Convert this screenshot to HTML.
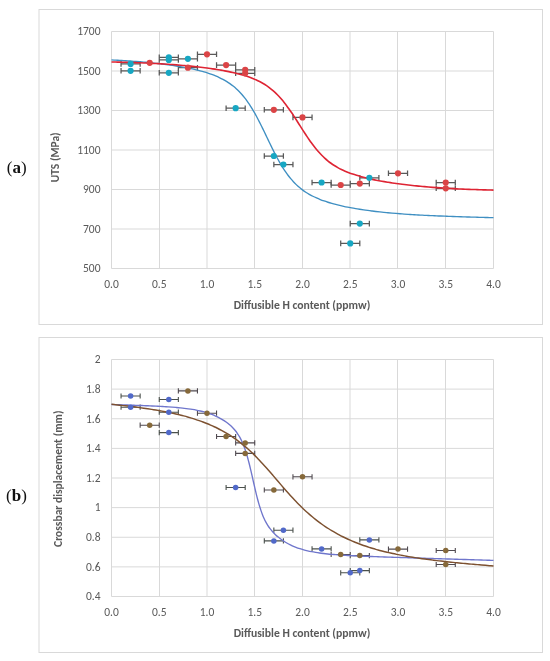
<!DOCTYPE html>
<html><head><meta charset="utf-8"><title>UTS and crossbar displacement vs diffusible H</title>
<style>html,body{margin:0;padding:0;background:#fff;width:550px;height:661px;overflow:hidden} svg{display:block}</style>
</head><body>
<svg width="550" height="661" viewBox="0 0 550 661">
<style>.t{font-family:Carlito, 'Liberation Sans', sans-serif;font-size:11.5px;fill:#595959} .tb{font-family:Carlito, 'Liberation Sans', sans-serif;font-size:11.5px;font-weight:bold;fill:#595959} .xt{font-size:11.7px} .tag{font-family:"Liberation Serif",serif;font-weight:bold;font-size:17px;fill:#111}</style>
<rect width="550" height="661" fill="#fff"/>
<rect x="39" y="9.5" width="503.5" height="315" fill="#fff" stroke="#d9d9d9" stroke-width="1"/>
<path d="M111.5,268.50H493.50M111.5,229.00H493.50M111.5,189.50H493.50M111.5,150.00H493.50M111.5,110.50H493.50M111.5,71.00H493.50M111.5,31.50H493.50M111.50,31.5V268.5M159.50,31.5V268.5M207.00,31.5V268.5M254.50,31.5V268.5M302.50,31.5V268.5M350.00,31.5V268.5M397.50,31.5V268.5M445.50,31.5V268.5M493.50,31.5V268.5" stroke="#d9d9d9" stroke-width="1" fill="none"/>
<text x="100.5" y="272.30" text-anchor="end" class="t" textLength="17.5" lengthAdjust="spacingAndGlyphs">500</text>
<text x="100.5" y="232.80" text-anchor="end" class="t" textLength="17.5" lengthAdjust="spacingAndGlyphs">700</text>
<text x="100.5" y="193.30" text-anchor="end" class="t" textLength="17.5" lengthAdjust="spacingAndGlyphs">900</text>
<text x="100.5" y="153.80" text-anchor="end" class="t" textLength="23.33" lengthAdjust="spacingAndGlyphs">1100</text>
<text x="100.5" y="114.30" text-anchor="end" class="t" textLength="23.33" lengthAdjust="spacingAndGlyphs">1300</text>
<text x="100.5" y="74.80" text-anchor="end" class="t" textLength="23.33" lengthAdjust="spacingAndGlyphs">1500</text>
<text x="100.5" y="35.30" text-anchor="end" class="t" textLength="23.33" lengthAdjust="spacingAndGlyphs">1700</text>
<text x="111.50" y="287.80" text-anchor="middle" class="t" textLength="14.56" lengthAdjust="spacingAndGlyphs">0.0</text>
<text x="159.25" y="287.80" text-anchor="middle" class="t" textLength="14.56" lengthAdjust="spacingAndGlyphs">0.5</text>
<text x="207.00" y="287.80" text-anchor="middle" class="t" textLength="14.56" lengthAdjust="spacingAndGlyphs">1.0</text>
<text x="254.75" y="287.80" text-anchor="middle" class="t" textLength="14.56" lengthAdjust="spacingAndGlyphs">1.5</text>
<text x="302.50" y="287.80" text-anchor="middle" class="t" textLength="14.56" lengthAdjust="spacingAndGlyphs">2.0</text>
<text x="350.25" y="287.80" text-anchor="middle" class="t" textLength="14.56" lengthAdjust="spacingAndGlyphs">2.5</text>
<text x="398.00" y="287.80" text-anchor="middle" class="t" textLength="14.56" lengthAdjust="spacingAndGlyphs">3.0</text>
<text x="445.75" y="287.80" text-anchor="middle" class="t" textLength="14.56" lengthAdjust="spacingAndGlyphs">3.5</text>
<text x="493.50" y="287.80" text-anchor="middle" class="t" textLength="14.56" lengthAdjust="spacingAndGlyphs">4.0</text>
<text x="302" y="309.40" text-anchor="middle" class="tb xt" textLength="136.64" lengthAdjust="spacingAndGlyphs">Diffusible H content (ppmw)</text>
<text transform="translate(58.8,157.3) rotate(-90)" x="0" y="0" text-anchor="middle" class="tb" textLength="49.98" lengthAdjust="spacingAndGlyphs">UTS (MPa)</text>
<text x="6.8" y="172.9" class="tag"><tspan font-weight="normal">(</tspan>a<tspan font-weight="normal">)</tspan></text>
<rect x="39" y="337.5" width="503.5" height="315" fill="#fff" stroke="#d9d9d9" stroke-width="1"/>
<path d="M111.5,596.50H493.50M111.5,566.88H493.50M111.5,537.25H493.50M111.5,507.62H493.50M111.5,478.00H493.50M111.5,448.38H493.50M111.5,418.75H493.50M111.5,389.12H493.50M111.5,359.50H493.50M111.50,359.5V596.5M159.50,359.5V596.5M207.00,359.5V596.5M254.50,359.5V596.5M302.50,359.5V596.5M350.00,359.5V596.5M397.50,359.5V596.5M445.50,359.5V596.5M493.50,359.5V596.5" stroke="#d9d9d9" stroke-width="1" fill="none"/>
<text x="100.5" y="600.30" text-anchor="end" class="t" textLength="14.56" lengthAdjust="spacingAndGlyphs">0.4</text>
<text x="100.5" y="570.67" text-anchor="end" class="t" textLength="14.56" lengthAdjust="spacingAndGlyphs">0.6</text>
<text x="100.5" y="541.05" text-anchor="end" class="t" textLength="14.56" lengthAdjust="spacingAndGlyphs">0.8</text>
<text x="100.5" y="511.43" text-anchor="end" class="t" textLength="5.84" lengthAdjust="spacingAndGlyphs">1</text>
<text x="100.5" y="481.80" text-anchor="end" class="t" textLength="14.56" lengthAdjust="spacingAndGlyphs">1.2</text>
<text x="100.5" y="452.18" text-anchor="end" class="t" textLength="14.56" lengthAdjust="spacingAndGlyphs">1.4</text>
<text x="100.5" y="422.55" text-anchor="end" class="t" textLength="14.56" lengthAdjust="spacingAndGlyphs">1.6</text>
<text x="100.5" y="392.93" text-anchor="end" class="t" textLength="14.56" lengthAdjust="spacingAndGlyphs">1.8</text>
<text x="100.5" y="363.30" text-anchor="end" class="t" textLength="5.84" lengthAdjust="spacingAndGlyphs">2</text>
<text x="111.50" y="615.80" text-anchor="middle" class="t" textLength="14.56" lengthAdjust="spacingAndGlyphs">0.0</text>
<text x="159.25" y="615.80" text-anchor="middle" class="t" textLength="14.56" lengthAdjust="spacingAndGlyphs">0.5</text>
<text x="207.00" y="615.80" text-anchor="middle" class="t" textLength="14.56" lengthAdjust="spacingAndGlyphs">1.0</text>
<text x="254.75" y="615.80" text-anchor="middle" class="t" textLength="14.56" lengthAdjust="spacingAndGlyphs">1.5</text>
<text x="302.50" y="615.80" text-anchor="middle" class="t" textLength="14.56" lengthAdjust="spacingAndGlyphs">2.0</text>
<text x="350.25" y="615.80" text-anchor="middle" class="t" textLength="14.56" lengthAdjust="spacingAndGlyphs">2.5</text>
<text x="398.00" y="615.80" text-anchor="middle" class="t" textLength="14.56" lengthAdjust="spacingAndGlyphs">3.0</text>
<text x="445.75" y="615.80" text-anchor="middle" class="t" textLength="14.56" lengthAdjust="spacingAndGlyphs">3.5</text>
<text x="493.50" y="615.80" text-anchor="middle" class="t" textLength="14.56" lengthAdjust="spacingAndGlyphs">4.0</text>
<text x="302" y="637.40" text-anchor="middle" class="tb xt" textLength="136.64" lengthAdjust="spacingAndGlyphs">Diffusible H content (ppmw)</text>
<text transform="translate(62.4,478.7) rotate(-90)" x="0" y="0" text-anchor="middle" class="tb" textLength="136.47" lengthAdjust="spacingAndGlyphs">Crossbar displacement (mm)</text>
<text x="6.0" y="501.1" class="tag"><tspan font-weight="normal">(</tspan>b<tspan font-weight="normal">)</tspan></text>
<path d="M121.05,63.90H140.15M121.05,61.10V66.70M140.15,61.10V66.70M121.05,70.80H140.15M121.05,68.00V73.60M140.15,68.00V73.60M159.25,57.30H178.35M159.25,54.50V60.10M178.35,54.50V60.10M159.25,59.90H178.35M159.25,57.10V62.70M178.35,57.10V62.70M159.25,72.80H178.35M159.25,70.00V75.60M178.35,70.00V75.60M178.35,58.80H197.45M178.35,56.00V61.60M197.45,56.00V61.60M226.10,108.20H245.20M226.10,105.40V111.00M245.20,105.40V111.00M264.30,156.00H283.40M264.30,153.20V158.80M283.40,153.20V158.80M273.85,164.50H292.95M273.85,161.70V167.30M292.95,161.70V167.30M312.05,182.50H331.15M312.05,179.70V185.30M331.15,179.70V185.30M359.80,177.80H378.90M359.80,175.00V180.60M378.90,175.00V180.60M350.25,223.60H369.35M350.25,220.80V226.40M369.35,220.80V226.40M340.70,243.40H359.80M340.70,240.60V246.20M359.80,240.60V246.20" stroke="#595959" stroke-width="1.25" fill="none"/>
<path d="M178.35,67.70H197.45M178.35,64.90V70.50M197.45,64.90V70.50M197.45,54.30H216.55M197.45,51.50V57.10M216.55,51.50V57.10M216.55,65.10H235.65M216.55,62.30V67.90M235.65,62.30V67.90M235.65,69.80H254.75M235.65,67.00V72.60M254.75,67.00V72.60M235.65,73.30H254.75M235.65,70.50V76.10M254.75,70.50V76.10M264.30,109.80H283.40M264.30,107.00V112.60M283.40,107.00V112.60M292.95,117.40H312.05M292.95,114.60V120.20M312.05,114.60V120.20M331.15,185.00H350.25M331.15,182.20V187.80M350.25,182.20V187.80M350.25,183.60H369.35M350.25,180.80V186.40M369.35,180.80V186.40M388.45,173.30H407.55M388.45,170.50V176.10M407.55,170.50V176.10M436.20,182.50H455.30M436.20,179.70V185.30M455.30,179.70V185.30M436.20,188.30H455.30M436.20,185.50V191.10M455.30,185.50V191.10" stroke="#595959" stroke-width="1.25" fill="none"/>
<path d="M111.50,59.95 C112.18,59.98 114.21,60.09 115.56,60.16 C116.91,60.23 118.27,60.31 119.62,60.39 C120.97,60.47 122.33,60.55 123.68,60.64 C125.03,60.73 126.39,60.81 127.74,60.90 C129.09,60.99 130.44,61.09 131.79,61.18 C133.14,61.27 134.50,61.37 135.85,61.47 C137.20,61.57 138.55,61.68 139.90,61.79 C141.25,61.90 142.60,62.02 143.95,62.14 C145.30,62.26 146.65,62.37 148.00,62.50 C149.35,62.63 150.70,62.76 152.05,62.90 C153.40,63.04 154.74,63.17 156.09,63.32 C157.44,63.47 158.78,63.61 160.13,63.77 C161.48,63.93 162.82,64.09 164.17,64.26 C165.51,64.43 166.86,64.61 168.20,64.79 C169.54,64.97 170.89,65.16 172.23,65.35 C173.57,65.54 174.91,65.75 176.25,65.96 C177.59,66.17 178.92,66.39 180.26,66.62 C181.60,66.85 182.94,67.08 184.27,67.33 C185.60,67.58 186.93,67.83 188.26,68.10 C189.59,68.37 190.92,68.65 192.24,68.94 C193.56,69.23 194.88,69.53 196.20,69.85 C197.52,70.17 198.83,70.49 200.14,70.84 C201.45,71.19 202.76,71.55 204.06,71.93 C205.36,72.31 206.66,72.71 207.95,73.13 C209.24,73.55 210.52,73.98 211.79,74.45 C213.06,74.92 214.33,75.40 215.58,75.92 C216.83,76.44 218.08,76.98 219.31,77.55 C220.54,78.12 221.75,78.72 222.95,79.36 C224.14,80.00 225.32,80.67 226.48,81.38 C227.63,82.09 228.77,82.82 229.88,83.60 C230.99,84.38 232.08,85.20 233.14,86.04 C234.20,86.89 235.23,87.76 236.23,88.67 C237.23,89.58 238.20,90.53 239.15,91.50 C240.10,92.47 241.02,93.47 241.91,94.49 C242.80,95.51 243.66,96.56 244.50,97.62 C245.34,98.68 246.16,99.77 246.95,100.87 C247.74,101.97 248.51,103.08 249.26,104.21 C250.01,105.34 250.74,106.49 251.45,107.64 C252.16,108.79 252.86,109.96 253.54,111.13 C254.22,112.30 254.89,113.47 255.55,114.66 C256.21,115.84 256.85,117.04 257.48,118.24 C258.11,119.44 258.73,120.64 259.35,121.85 C259.97,123.06 260.57,124.27 261.18,125.48 C261.79,126.69 262.38,127.91 262.98,129.13 C263.58,130.35 264.16,131.57 264.75,132.79 C265.34,134.01 265.92,135.23 266.51,136.45 C267.10,137.67 267.68,138.90 268.27,140.12 C268.86,141.34 269.44,142.56 270.03,143.78 C270.62,145.00 271.22,146.22 271.82,147.44 C272.42,148.66 273.02,149.87 273.63,151.08 C274.24,152.29 274.85,153.50 275.48,154.70 C276.11,155.90 276.74,157.10 277.39,158.29 C278.04,159.48 278.69,160.66 279.36,161.84 C280.03,163.02 280.71,164.19 281.41,165.35 C282.11,166.51 282.82,167.67 283.56,168.81 C284.30,169.95 285.05,171.08 285.82,172.19 C286.59,173.30 287.38,174.40 288.20,175.48 C289.02,176.56 289.85,177.63 290.72,178.67 C291.59,179.71 292.49,180.74 293.41,181.73 C294.33,182.72 295.27,183.69 296.25,184.63 C297.23,185.57 298.24,186.48 299.27,187.36 C300.30,188.24 301.37,189.08 302.45,189.89 C303.53,190.70 304.65,191.48 305.78,192.22 C306.91,192.96 308.07,193.67 309.25,194.34 C310.43,195.01 311.62,195.65 312.83,196.26 C314.04,196.87 315.27,197.44 316.51,197.99 C317.75,198.54 319.00,199.06 320.26,199.55 C321.52,200.05 322.80,200.51 324.08,200.96 C325.36,201.41 326.65,201.83 327.94,202.24 C329.23,202.65 330.53,203.03 331.83,203.40 C333.13,203.77 334.45,204.12 335.76,204.46 C337.07,204.80 338.39,205.12 339.71,205.43 C341.03,205.74 342.35,206.04 343.67,206.33 C345.00,206.62 346.33,206.89 347.66,207.15 C348.99,207.41 350.32,207.66 351.65,207.91 C352.98,208.16 354.31,208.39 355.65,208.62 C356.99,208.85 358.33,209.06 359.67,209.27 C361.01,209.48 362.35,209.68 363.69,209.88 C365.03,210.08 366.38,210.27 367.72,210.45 C369.06,210.63 370.41,210.80 371.75,210.97 C373.09,211.14 374.43,211.30 375.78,211.46 C377.12,211.62 378.47,211.76 379.82,211.91 C381.17,212.06 382.52,212.20 383.87,212.34 C385.22,212.48 386.57,212.60 387.92,212.73 C389.27,212.86 390.62,212.98 391.97,213.10 C393.32,213.22 394.67,213.33 396.02,213.44 C397.37,213.55 398.72,213.66 400.07,213.76 C401.42,213.86 402.78,213.96 404.13,214.06 C405.48,214.16 406.83,214.25 408.18,214.34 C409.53,214.43 410.89,214.51 412.24,214.60 C413.59,214.69 414.95,214.77 416.30,214.85 C417.65,214.93 419.01,215.00 420.36,215.08 C421.71,215.16 423.07,215.23 424.42,215.30 C425.77,215.37 427.13,215.44 428.48,215.50 C429.83,215.56 431.19,215.63 432.54,215.69 C433.89,215.75 435.25,215.81 436.60,215.87 C437.96,215.93 439.31,215.98 440.67,216.04 C442.03,216.09 443.38,216.15 444.73,216.20 C446.08,216.25 447.44,216.31 448.79,216.36 C450.15,216.41 451.50,216.45 452.86,216.50 C454.22,216.55 455.57,216.59 456.92,216.64 C458.27,216.69 459.62,216.73 460.98,216.77 C462.34,216.81 463.69,216.86 465.05,216.90 C466.41,216.94 467.75,216.98 469.11,217.02 C470.47,217.06 471.82,217.10 473.18,217.14 C474.54,217.18 475.88,217.21 477.24,217.25 C478.60,217.29 479.95,217.33 481.31,217.36 C482.67,217.40 484.01,217.43 485.37,217.46 C486.73,217.49 488.08,217.53 489.44,217.56 C490.80,217.59 492.82,217.64 493.50,217.66" stroke="#3f8fc2" stroke-width="1.35" fill="none" stroke-linejoin="round"/>
<path d="M111.50,61.94 C112.18,61.96 114.21,62.01 115.56,62.04 C116.91,62.07 118.27,62.11 119.62,62.14 C120.97,62.17 122.33,62.21 123.68,62.25 C125.03,62.29 126.39,62.33 127.74,62.37 C129.09,62.41 130.45,62.45 131.80,62.50 C133.15,62.55 134.51,62.59 135.86,62.64 C137.21,62.69 138.57,62.75 139.92,62.80 C141.27,62.85 142.62,62.90 143.97,62.96 C145.32,63.02 146.68,63.08 148.03,63.14 C149.38,63.20 150.74,63.27 152.09,63.34 C153.44,63.41 154.79,63.48 156.14,63.55 C157.49,63.62 158.85,63.70 160.20,63.78 C161.55,63.86 162.90,63.93 164.25,64.02 C165.60,64.10 166.95,64.20 168.30,64.29 C169.65,64.38 171.01,64.47 172.36,64.57 C173.71,64.67 175.06,64.77 176.41,64.88 C177.76,64.98 179.10,65.09 180.45,65.20 C181.80,65.31 183.15,65.44 184.50,65.56 C185.85,65.68 187.19,65.80 188.54,65.93 C189.89,66.06 191.23,66.20 192.58,66.34 C193.93,66.48 195.27,66.62 196.62,66.77 C197.97,66.92 199.31,67.08 200.66,67.24 C202.00,67.40 203.35,67.57 204.69,67.74 C206.03,67.91 207.37,68.08 208.71,68.27 C210.05,68.45 211.39,68.65 212.73,68.85 C214.07,69.05 215.41,69.25 216.75,69.47 C218.09,69.69 219.42,69.91 220.75,70.14 C222.08,70.37 223.42,70.61 224.75,70.86 C226.08,71.11 227.41,71.37 228.74,71.64 C230.07,71.91 231.39,72.19 232.71,72.49 C234.03,72.79 235.35,73.09 236.66,73.42 C237.97,73.75 239.28,74.09 240.59,74.45 C241.90,74.81 243.20,75.18 244.49,75.58 C245.78,75.98 247.07,76.41 248.35,76.85 C249.63,77.29 250.90,77.75 252.16,78.25 C253.42,78.75 254.67,79.28 255.90,79.83 C257.13,80.38 258.36,80.96 259.56,81.58 C260.76,82.20 261.95,82.85 263.12,83.54 C264.29,84.23 265.43,84.95 266.55,85.71 C267.67,86.47 268.78,87.26 269.85,88.08 C270.93,88.90 271.98,89.76 273.00,90.64 C274.02,91.52 275.02,92.44 276.00,93.38 C276.98,94.32 277.92,95.28 278.85,96.27 C279.78,97.26 280.68,98.27 281.56,99.30 C282.44,100.33 283.30,101.37 284.14,102.43 C284.98,103.49 285.81,104.57 286.62,105.65 C287.43,106.73 288.23,107.83 289.01,108.94 C289.79,110.05 290.56,111.16 291.32,112.28 C292.08,113.40 292.83,114.53 293.57,115.66 C294.31,116.79 295.05,117.92 295.78,119.06 C296.51,120.20 297.23,121.35 297.96,122.49 C298.69,123.63 299.40,124.78 300.13,125.92 C300.86,127.06 301.58,128.21 302.31,129.35 C303.04,130.49 303.77,131.62 304.51,132.76 C305.25,133.89 305.99,135.03 306.74,136.16 C307.49,137.28 308.25,138.40 309.02,139.51 C309.79,140.62 310.57,141.74 311.37,142.83 C312.17,143.93 312.97,145.01 313.80,146.08 C314.63,147.15 315.47,148.21 316.34,149.25 C317.20,150.29 318.09,151.32 318.99,152.33 C319.89,153.34 320.82,154.33 321.77,155.29 C322.72,156.25 323.69,157.20 324.69,158.11 C325.69,159.02 326.72,159.91 327.77,160.76 C328.82,161.61 329.89,162.45 330.99,163.24 C332.09,164.03 333.21,164.79 334.35,165.52 C335.49,166.25 336.65,166.94 337.83,167.60 C339.01,168.26 340.22,168.88 341.43,169.48 C342.64,170.08 343.88,170.64 345.12,171.18 C346.36,171.72 347.62,172.23 348.88,172.71 C350.14,173.19 351.42,173.65 352.70,174.09 C353.98,174.53 355.27,174.94 356.56,175.34 C357.85,175.74 359.15,176.12 360.46,176.48 C361.76,176.84 363.08,177.19 364.39,177.52 C365.70,177.85 367.01,178.17 368.33,178.48 C369.65,178.79 370.98,179.08 372.30,179.36 C373.62,179.64 374.95,179.92 376.28,180.18 C377.61,180.44 378.94,180.69 380.27,180.94 C381.60,181.19 382.93,181.42 384.26,181.65 C385.59,181.88 386.93,182.10 388.27,182.31 C389.61,182.52 390.94,182.73 392.28,182.93 C393.62,183.13 394.96,183.33 396.30,183.52 C397.64,183.71 398.99,183.88 400.33,184.06 C401.67,184.24 403.02,184.41 404.36,184.57 C405.70,184.73 407.04,184.90 408.39,185.05 C409.74,185.21 411.08,185.36 412.43,185.50 C413.78,185.64 415.12,185.78 416.47,185.92 C417.82,186.05 419.16,186.19 420.51,186.31 C421.86,186.44 423.20,186.55 424.55,186.67 C425.90,186.79 427.25,186.90 428.60,187.01 C429.95,187.12 431.30,187.23 432.65,187.33 C434.00,187.43 435.35,187.53 436.70,187.63 C438.05,187.72 439.40,187.81 440.75,187.90 C442.10,187.99 443.46,188.08 444.81,188.16 C446.16,188.24 447.51,188.32 448.86,188.40 C450.21,188.48 451.57,188.55 452.92,188.62 C454.27,188.69 455.62,188.76 456.97,188.83 C458.32,188.90 459.68,188.96 461.03,189.02 C462.38,189.08 463.74,189.13 465.09,189.19 C466.44,189.25 467.79,189.30 469.14,189.35 C470.49,189.40 471.85,189.45 473.20,189.50 C474.55,189.55 475.91,189.59 477.26,189.64 C478.61,189.69 479.97,189.73 481.32,189.77 C482.67,189.81 484.03,189.85 485.38,189.89 C486.73,189.93 488.09,189.96 489.44,189.99 C490.79,190.02 492.82,190.07 493.50,190.09" stroke="#de2433" stroke-width="1.6" fill="none" stroke-linejoin="round"/>
<circle cx="149.70" cy="62.80" r="3.1" fill="#db4446"/>
<circle cx="187.90" cy="67.70" r="3.1" fill="#db4446"/>
<circle cx="207.00" cy="54.30" r="3.1" fill="#db4446"/>
<circle cx="226.10" cy="65.10" r="3.1" fill="#db4446"/>
<circle cx="245.20" cy="69.80" r="3.1" fill="#db4446"/>
<circle cx="245.20" cy="73.30" r="3.1" fill="#db4446"/>
<circle cx="273.85" cy="109.80" r="3.1" fill="#db4446"/>
<circle cx="302.50" cy="117.40" r="3.1" fill="#db4446"/>
<circle cx="340.70" cy="185.00" r="3.1" fill="#db4446"/>
<circle cx="359.80" cy="183.60" r="3.1" fill="#db4446"/>
<circle cx="398.00" cy="173.30" r="3.1" fill="#db4446"/>
<circle cx="445.75" cy="182.50" r="3.1" fill="#db4446"/>
<circle cx="445.75" cy="188.30" r="3.1" fill="#db4446"/>
<circle cx="130.60" cy="63.90" r="3.1" fill="#17a7c3"/>
<circle cx="130.60" cy="70.80" r="3.1" fill="#17a7c3"/>
<circle cx="168.80" cy="57.30" r="3.1" fill="#17a7c3"/>
<circle cx="168.80" cy="59.90" r="3.1" fill="#17a7c3"/>
<circle cx="168.80" cy="72.80" r="3.1" fill="#17a7c3"/>
<circle cx="187.90" cy="58.80" r="3.1" fill="#17a7c3"/>
<circle cx="235.65" cy="108.20" r="3.1" fill="#17a7c3"/>
<circle cx="273.85" cy="156.00" r="3.1" fill="#17a7c3"/>
<circle cx="283.40" cy="164.50" r="3.1" fill="#17a7c3"/>
<circle cx="321.60" cy="182.50" r="3.1" fill="#17a7c3"/>
<circle cx="369.35" cy="177.80" r="3.1" fill="#17a7c3"/>
<circle cx="359.80" cy="223.60" r="3.1" fill="#17a7c3"/>
<circle cx="350.25" cy="243.40" r="3.1" fill="#17a7c3"/>
<path d="M121.05,396.00H140.15M121.05,393.40V398.60M140.15,393.40V398.60M121.05,407.20H140.15M121.05,404.60V409.80M140.15,404.60V409.80M159.25,399.50H178.35M159.25,396.90V402.10M178.35,396.90V402.10M159.25,412.20H178.35M159.25,409.60V414.80M178.35,409.60V414.80M159.25,432.60H178.35M159.25,430.00V435.20M178.35,430.00V435.20M226.10,487.50H245.20M226.10,484.90V490.10M245.20,484.90V490.10M264.30,540.90H283.40M264.30,538.30V543.50M283.40,538.30V543.50M273.85,530.20H292.95M273.85,527.60V532.80M292.95,527.60V532.80M312.05,548.90H331.15M312.05,546.30V551.50M331.15,546.30V551.50M359.80,539.90H378.90M359.80,537.30V542.50M378.90,537.30V542.50M340.70,572.80H359.80M340.70,570.20V575.40M359.80,570.20V575.40M350.25,570.60H369.35M350.25,568.00V573.20M369.35,568.00V573.20" stroke="#4a504c" stroke-width="1.1" fill="none"/>
<path d="M140.15,425.20H159.25M140.15,422.60V427.80M159.25,422.60V427.80M178.35,390.90H197.45M178.35,388.30V393.50M197.45,388.30V393.50M197.45,413.20H216.55M197.45,410.60V415.80M216.55,410.60V415.80M216.55,436.50H235.65M216.55,433.90V439.10M235.65,433.90V439.10M235.65,442.90H254.75M235.65,440.30V445.50M254.75,440.30V445.50M235.65,453.40H254.75M235.65,450.80V456.00M254.75,450.80V456.00M264.30,490.00H283.40M264.30,487.40V492.60M283.40,487.40V492.60M292.95,476.80H312.05M292.95,474.20V479.40M312.05,474.20V479.40M331.15,554.50H350.25M331.15,551.90V557.10M350.25,551.90V557.10M350.25,555.60H369.35M350.25,553.00V558.20M369.35,553.00V558.20M388.45,549.10H407.55M388.45,546.50V551.70M407.55,546.50V551.70M436.20,550.50H455.30M436.20,547.90V553.10M455.30,547.90V553.10M436.20,564.50H455.30M436.20,561.90V567.10M455.30,561.90V567.10" stroke="#504a50" stroke-width="1.1" fill="none"/>
<path d="M111.50,404.47 C112.17,404.49 114.20,404.56 115.55,404.60 C116.90,404.65 118.24,404.69 119.59,404.74 C120.94,404.79 122.29,404.83 123.64,404.88 C124.99,404.93 126.34,404.97 127.69,405.02 C129.04,405.07 130.38,405.11 131.73,405.16 C133.08,405.21 134.43,405.26 135.78,405.31 C137.13,405.36 138.48,405.41 139.83,405.46 C141.18,405.51 142.52,405.56 143.87,405.62 C145.22,405.68 146.57,405.73 147.92,405.79 C149.27,405.85 150.61,405.91 151.96,405.97 C153.31,406.03 154.66,406.09 156.01,406.16 C157.36,406.23 158.70,406.30 160.05,406.37 C161.40,406.44 162.75,406.53 164.10,406.61 C165.45,406.69 166.79,406.77 168.14,406.86 C169.49,406.95 170.84,407.05 172.18,407.15 C173.53,407.25 174.87,407.36 176.21,407.48 C177.55,407.60 178.90,407.72 180.24,407.86 C181.58,408.00 182.93,408.14 184.27,408.30 C185.61,408.46 186.94,408.63 188.28,408.82 C189.62,409.01 190.96,409.20 192.29,409.42 C193.62,409.64 194.94,409.87 196.27,410.13 C197.60,410.39 198.93,410.68 200.24,410.98 C201.56,411.29 202.86,411.60 204.16,411.96 C205.46,412.32 206.76,412.71 208.04,413.13 C209.32,413.55 210.60,414.00 211.86,414.48 C213.12,414.96 214.36,415.47 215.59,416.03 C216.82,416.58 218.04,417.18 219.23,417.81 C220.42,418.44 221.60,419.11 222.75,419.82 C223.90,420.53 225.02,421.28 226.11,422.07 C227.20,422.86 228.28,423.69 229.31,424.56 C230.34,425.43 231.34,426.35 232.29,427.30 C233.24,428.25 234.15,429.25 235.01,430.29 C235.87,431.33 236.69,432.41 237.46,433.52 C238.23,434.63 238.94,435.77 239.61,436.94 C240.28,438.11 240.90,439.31 241.49,440.53 C242.08,441.75 242.62,442.98 243.14,444.23 C243.66,445.48 244.13,446.74 244.59,448.01 C245.05,449.28 245.48,450.55 245.89,451.84 C246.30,453.12 246.68,454.42 247.06,455.72 C247.44,457.02 247.80,458.32 248.15,459.62 C248.50,460.92 248.84,462.23 249.17,463.54 C249.50,464.85 249.82,466.16 250.14,467.47 C250.46,468.78 250.76,470.10 251.07,471.41 C251.38,472.73 251.68,474.05 251.98,475.36 C252.28,476.68 252.57,477.99 252.87,479.30 C253.17,480.62 253.46,481.93 253.76,483.25 C254.06,484.57 254.36,485.88 254.67,487.20 C254.97,488.51 255.28,489.83 255.59,491.14 C255.90,492.45 256.22,493.77 256.54,495.08 C256.87,496.39 257.20,497.69 257.54,499.00 C257.88,500.31 258.23,501.61 258.60,502.91 C258.97,504.21 259.35,505.51 259.75,506.80 C260.15,508.09 260.56,509.38 261.00,510.65 C261.44,511.92 261.90,513.20 262.39,514.45 C262.88,515.71 263.40,516.95 263.96,518.18 C264.52,519.41 265.11,520.63 265.74,521.82 C266.37,523.01 267.04,524.18 267.76,525.32 C268.48,526.46 269.26,527.57 270.07,528.65 C270.88,529.73 271.74,530.77 272.64,531.78 C273.54,532.78 274.48,533.75 275.46,534.68 C276.44,535.61 277.45,536.50 278.50,537.35 C279.55,538.20 280.63,539.02 281.73,539.80 C282.83,540.58 283.96,541.32 285.11,542.02 C286.26,542.72 287.44,543.38 288.63,544.01 C289.82,544.64 291.04,545.23 292.27,545.79 C293.50,546.35 294.75,546.87 296.01,547.35 C297.27,547.84 298.55,548.28 299.83,548.70 C301.11,549.12 302.41,549.50 303.71,549.86 C305.01,550.22 306.32,550.54 307.63,550.85 C308.94,551.16 310.26,551.44 311.59,551.70 C312.91,551.96 314.25,552.19 315.58,552.41 C316.91,552.63 318.24,552.83 319.58,553.02 C320.92,553.21 322.26,553.37 323.60,553.53 C324.94,553.69 326.28,553.84 327.62,553.98 C328.96,554.12 330.30,554.24 331.65,554.36 C333.00,554.48 334.34,554.59 335.69,554.69 C337.04,554.79 338.38,554.89 339.73,554.98 C341.08,555.07 342.42,555.16 343.77,555.24 C345.12,555.32 346.46,555.40 347.81,555.47 C349.16,555.54 350.51,555.61 351.86,555.68 C353.21,555.75 354.55,555.81 355.90,555.87 C357.25,555.93 358.60,555.99 359.95,556.05 C361.30,556.11 362.64,556.16 363.99,556.22 C365.34,556.28 366.69,556.33 368.04,556.38 C369.39,556.43 370.73,556.49 372.08,556.54 C373.43,556.59 374.78,556.63 376.13,556.68 C377.48,556.73 378.83,556.78 380.18,556.83 C381.53,556.88 382.87,556.92 384.22,556.97 C385.57,557.02 386.92,557.07 388.27,557.11 C389.62,557.15 390.97,557.20 392.32,557.24 C393.67,557.28 395.01,557.33 396.36,557.37 C397.71,557.41 399.06,557.46 400.41,557.50 C401.76,557.54 403.11,557.59 404.46,557.63 C405.81,557.67 407.16,557.72 408.51,557.76 C409.86,557.80 411.20,557.85 412.55,557.89 C413.90,557.93 415.25,557.98 416.60,558.02 C417.95,558.06 419.30,558.11 420.65,558.15 C422.00,558.19 423.35,558.24 424.70,558.28 C426.05,558.32 427.39,558.36 428.74,558.40 C430.09,558.44 431.44,558.49 432.79,558.53 C434.14,558.57 435.49,558.62 436.84,558.66 C438.19,558.70 439.53,558.74 440.88,558.78 C442.23,558.82 443.58,558.87 444.93,558.91 C446.28,558.95 447.63,559.00 448.98,559.04 C450.33,559.08 451.68,559.12 453.03,559.16 C454.38,559.20 455.72,559.25 457.07,559.29 C458.42,559.33 459.77,559.37 461.12,559.41 C462.47,559.45 463.82,559.50 465.17,559.54 C466.52,559.58 467.87,559.62 469.22,559.66 C470.57,559.70 471.91,559.75 473.26,559.79 C474.61,559.83 475.96,559.88 477.31,559.92 C478.66,559.96 480.01,560.00 481.36,560.04 C482.71,560.08 484.06,560.13 485.41,560.17 C486.76,560.21 488.10,560.25 489.45,560.29 C490.80,560.33 492.82,560.40 493.50,560.42" stroke="#6f76cc" stroke-width="1.35" fill="none" stroke-linejoin="round"/>
<path d="M111.50,404.32 C112.17,404.39 114.19,404.60 115.54,404.74 C116.89,404.88 118.23,405.02 119.58,405.17 C120.93,405.32 122.27,405.47 123.62,405.62 C124.97,405.77 126.31,405.93 127.66,406.09 C129.00,406.25 130.35,406.40 131.69,406.57 C133.03,406.74 134.38,406.90 135.72,407.08 C137.06,407.25 138.41,407.44 139.75,407.62 C141.09,407.80 142.43,407.99 143.77,408.18 C145.11,408.37 146.45,408.57 147.79,408.77 C149.13,408.97 150.47,409.18 151.81,409.39 C153.15,409.60 154.48,409.81 155.82,410.04 C157.16,410.27 158.49,410.50 159.82,410.74 C161.15,410.98 162.49,411.23 163.82,411.48 C165.15,411.73 166.48,411.99 167.81,412.26 C169.14,412.53 170.46,412.80 171.78,413.09 C173.10,413.38 174.43,413.67 175.75,413.97 C177.07,414.27 178.38,414.59 179.70,414.91 C181.01,415.24 182.33,415.57 183.64,415.92 C184.95,416.27 186.26,416.62 187.56,416.99 C188.86,417.36 190.16,417.74 191.46,418.13 C192.76,418.52 194.05,418.93 195.34,419.35 C196.63,419.77 197.91,420.20 199.19,420.65 C200.47,421.10 201.74,421.55 203.01,422.03 C204.28,422.51 205.53,423.00 206.79,423.51 C208.04,424.02 209.30,424.54 210.54,425.08 C211.78,425.62 213.01,426.17 214.24,426.74 C215.47,427.31 216.69,427.90 217.90,428.51 C219.11,429.12 220.32,429.75 221.51,430.39 C222.70,431.03 223.88,431.69 225.05,432.37 C226.22,433.05 227.39,433.75 228.54,434.46 C229.69,435.17 230.83,435.90 231.96,436.65 C233.09,437.40 234.21,438.16 235.31,438.94 C236.41,439.72 237.51,440.52 238.59,441.34 C239.67,442.15 240.74,442.98 241.80,443.83 C242.86,444.68 243.91,445.55 244.94,446.42 C245.97,447.30 247.00,448.18 248.01,449.08 C249.02,449.98 250.01,450.90 251.00,451.83 C251.99,452.76 252.97,453.69 253.94,454.64 C254.91,455.59 255.86,456.54 256.81,457.51 C257.76,458.48 258.70,459.46 259.63,460.44 C260.56,461.42 261.48,462.41 262.40,463.41 C263.31,464.41 264.22,465.41 265.12,466.42 C266.02,467.43 266.93,468.44 267.82,469.46 C268.71,470.48 269.60,471.50 270.49,472.53 C271.38,473.55 272.26,474.58 273.14,475.61 C274.02,476.64 274.90,477.67 275.78,478.70 C276.66,479.73 277.53,480.76 278.41,481.79 C279.29,482.82 280.17,483.85 281.05,484.88 C281.93,485.91 282.81,486.94 283.70,487.96 C284.59,488.98 285.49,490.00 286.38,491.02 C287.27,492.04 288.17,493.05 289.07,494.06 C289.97,495.07 290.88,496.07 291.80,497.07 C292.72,498.07 293.64,499.06 294.57,500.04 C295.50,501.02 296.44,502.00 297.39,502.97 C298.34,503.94 299.29,504.90 300.25,505.85 C301.21,506.80 302.19,507.75 303.17,508.68 C304.15,509.61 305.14,510.54 306.14,511.45 C307.14,512.36 308.15,513.26 309.17,514.15 C310.19,515.04 311.23,515.92 312.27,516.79 C313.31,517.65 314.37,518.50 315.43,519.34 C316.49,520.18 317.57,521.01 318.65,521.82 C319.73,522.63 320.83,523.44 321.93,524.22 C323.03,525.00 324.14,525.77 325.27,526.53 C326.39,527.28 327.54,528.02 328.68,528.75 C329.82,529.48 330.97,530.18 332.13,530.88 C333.29,531.58 334.47,532.25 335.65,532.92 C336.83,533.58 338.01,534.24 339.21,534.87 C340.40,535.50 341.61,536.12 342.82,536.73 C344.03,537.34 345.25,537.92 346.48,538.50 C347.71,539.08 348.94,539.63 350.18,540.18 C351.42,540.72 352.67,541.25 353.92,541.77 C355.17,542.29 356.43,542.79 357.69,543.28 C358.95,543.77 360.23,544.25 361.50,544.71 C362.77,545.17 364.05,545.62 365.33,546.05 C366.61,546.48 367.90,546.91 369.19,547.32 C370.48,547.73 371.77,548.13 373.07,548.52 C374.37,548.91 375.68,549.27 376.98,549.64 C378.29,550.00 379.59,550.37 380.90,550.71 C382.21,551.05 383.52,551.38 384.84,551.70 C386.15,552.02 387.47,552.34 388.79,552.64 C390.11,552.94 391.44,553.24 392.76,553.53 C394.08,553.82 395.40,554.09 396.73,554.36 C398.06,554.63 399.39,554.89 400.72,555.15 C402.05,555.40 403.39,555.65 404.72,555.89 C406.05,556.13 407.39,556.36 408.72,556.59 C410.06,556.82 411.39,557.04 412.73,557.26 C414.07,557.48 415.40,557.68 416.74,557.88 C418.08,558.08 419.42,558.29 420.76,558.48 C422.10,558.67 423.44,558.87 424.78,559.05 C426.12,559.23 427.47,559.41 428.81,559.59 C430.15,559.77 431.50,559.94 432.84,560.11 C434.18,560.28 435.52,560.44 436.87,560.60 C438.22,560.76 439.56,560.92 440.91,561.07 C442.26,561.23 443.60,561.38 444.95,561.53 C446.30,561.68 447.64,561.82 448.99,561.96 C450.34,562.10 451.68,562.24 453.03,562.38 C454.38,562.52 455.72,562.66 457.07,562.79 C458.42,562.92 459.77,563.05 461.12,563.18 C462.47,563.31 463.81,563.44 465.16,563.57 C466.51,563.70 467.86,563.82 469.21,563.94 C470.56,564.06 471.90,564.18 473.25,564.30 C474.60,564.42 475.95,564.53 477.30,564.65 C478.65,564.77 480.00,564.88 481.35,565.00 C482.70,565.12 484.05,565.23 485.40,565.34 C486.75,565.45 488.10,565.56 489.45,565.67 C490.80,565.78 492.82,565.94 493.50,565.99" stroke="#7d5130" stroke-width="1.45" fill="none" stroke-linejoin="round"/>
<circle cx="130.60" cy="396.00" r="2.75" fill="#5169c9"/>
<circle cx="130.60" cy="407.20" r="2.75" fill="#5169c9"/>
<circle cx="168.80" cy="399.50" r="2.75" fill="#5169c9"/>
<circle cx="168.80" cy="412.20" r="2.75" fill="#5169c9"/>
<circle cx="168.80" cy="432.60" r="2.75" fill="#5169c9"/>
<circle cx="235.65" cy="487.50" r="2.75" fill="#5169c9"/>
<circle cx="273.85" cy="540.90" r="2.75" fill="#5169c9"/>
<circle cx="283.40" cy="530.20" r="2.75" fill="#5169c9"/>
<circle cx="321.60" cy="548.90" r="2.75" fill="#5169c9"/>
<circle cx="369.35" cy="539.90" r="2.75" fill="#5169c9"/>
<circle cx="350.25" cy="572.80" r="2.75" fill="#5169c9"/>
<circle cx="359.80" cy="570.60" r="2.75" fill="#5169c9"/>
<circle cx="149.70" cy="425.20" r="2.75" fill="#86693a"/>
<circle cx="187.90" cy="390.90" r="2.75" fill="#86693a"/>
<circle cx="207.00" cy="413.20" r="2.75" fill="#86693a"/>
<circle cx="226.10" cy="436.50" r="2.75" fill="#86693a"/>
<circle cx="245.20" cy="442.90" r="2.75" fill="#86693a"/>
<circle cx="245.20" cy="453.40" r="2.75" fill="#86693a"/>
<circle cx="273.85" cy="490.00" r="2.75" fill="#86693a"/>
<circle cx="302.50" cy="476.80" r="2.75" fill="#86693a"/>
<circle cx="340.70" cy="554.50" r="2.75" fill="#86693a"/>
<circle cx="359.80" cy="555.60" r="2.75" fill="#86693a"/>
<circle cx="398.00" cy="549.10" r="2.75" fill="#86693a"/>
<circle cx="445.75" cy="550.50" r="2.75" fill="#86693a"/>
<circle cx="445.75" cy="564.50" r="2.75" fill="#86693a"/>
</svg>
</body></html>
